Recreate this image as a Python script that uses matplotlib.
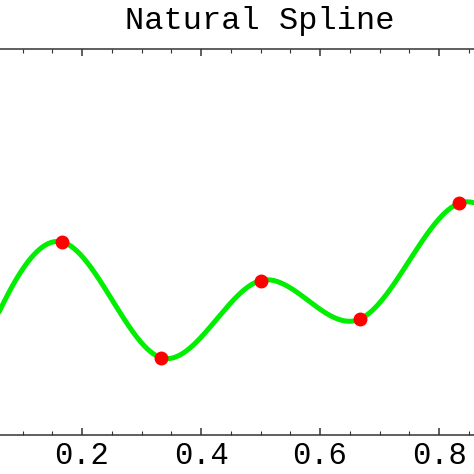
import numpy as np
import matplotlib
matplotlib.use("Agg")
from matplotlib import pyplot as plt
from matplotlib.ticker import MultipleLocator

# knots of the natural spline (x = k/6) and their values
knot_x = [0, 1/6, 2/6, 3/6, 4/6, 5/6, 1]
knot_y = [0.1, 0.5, 0.2, 0.4, 0.3, 0.6, 0.3]
tick_vals = [0.2, 0.4, 0.6, 0.8]
tick_labels = ["0.2", "0.4", "0.6", "0.8"]


def natural_spline(xk, yk, xs):
    xk = np.asarray(xk, float)
    yk = np.asarray(yk, float)
    n = len(xk)
    h = np.diff(xk)
    A = np.zeros((n, n))
    r = np.zeros(n)
    A[0, 0] = 1
    A[-1, -1] = 1
    for i in range(1, n - 1):
        A[i, i - 1] = h[i - 1]
        A[i, i] = 2 * (h[i - 1] + h[i])
        A[i, i + 1] = h[i]
        r[i] = 6 * ((yk[i + 1] - yk[i]) / h[i] - (yk[i] - yk[i - 1]) / h[i - 1])
    M = np.linalg.solve(A, r)
    idx = np.clip(np.searchsorted(xk, xs) - 1, 0, n - 2)
    x0, x1 = xk[idx], xk[idx + 1]
    hh = x1 - x0
    a = (x1 - xs) / hh
    b = (xs - x0) / hh
    return (a * yk[idx] + b * yk[idx + 1]
            + ((a**3 - a) * M[idx] + (b**3 - b) * M[idx + 1]) * hh**2 / 6)


xs = np.linspace(0, 1, 600)
ys = natural_spline(knot_x, knot_y, xs)

fig = plt.figure(figsize=(4.74, 4.74), dpi=100)
ax = fig.add_axes([0, 39/474, 1, 386/474])

ax.plot(xs, ys, color="#00ee00", lw=3.6, solid_capstyle="round", zorder=2)
ax.plot(knot_x, knot_y, "o", color="red", ms=9, mec="red", zorder=3)

ax.set_xlim(37/595, 511/595)
ax.set_ylim(0, 1)

for s in ["left", "right"]:
    ax.spines[s].set_visible(False)
for s in ["top", "bottom"]:
    ax.spines[s].set_color("#333333")
    ax.spines[s].set_linewidth(1.1)

ax.set_xticks(tick_vals)
ax.set_xticklabels(tick_labels, family="Liberation Mono", fontsize=22)
ax.xaxis.set_minor_locator(MultipleLocator(0.05))
ax.tick_params(axis="x", which="major", direction="in", top=True, bottom=True,
               length=5, width=1.1, color="#333333", pad=4)
ax.tick_params(axis="x", which="minor", direction="in", top=True, bottom=True,
               length=3, width=0.8, color="#333333")
ax.set_yticks([])

fig.text(260/474, 1 - 21/474, "Natural Spline", family="Liberation Mono",
         fontsize=23, ha="center", va="center")

fig.savefig("out.png", dpi=100)
